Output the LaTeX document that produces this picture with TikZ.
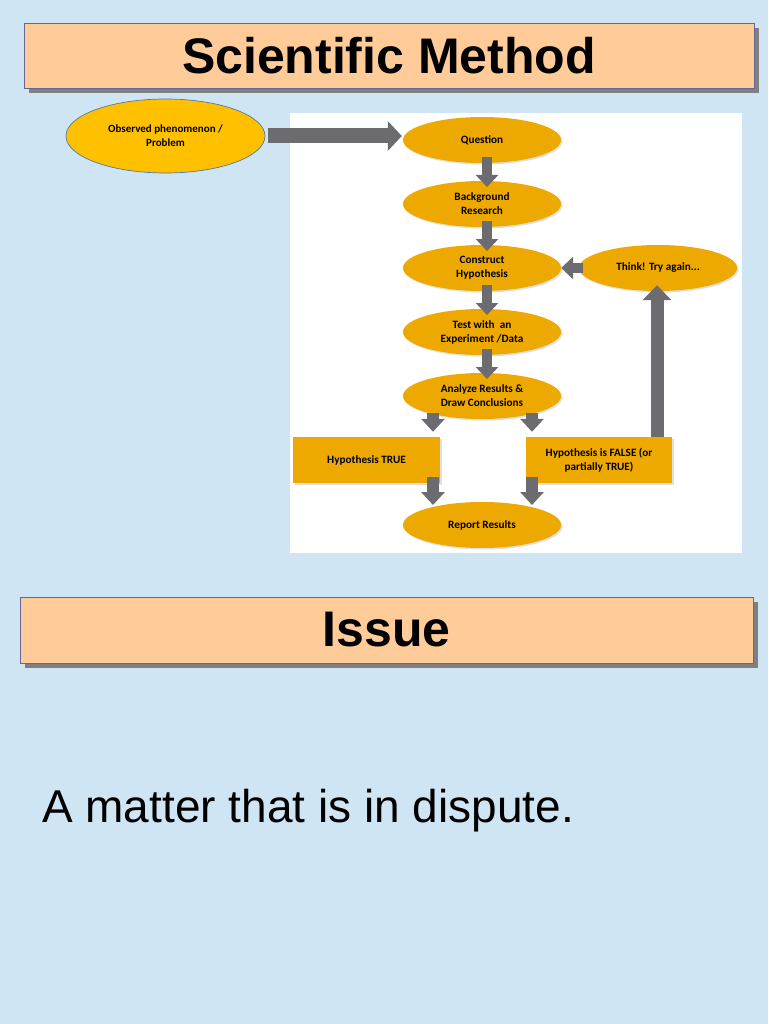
\documentclass[tikz,border=0pt]{standalone}
\usepackage{fontspec}
\setmainfont{Liberation Sans}
\newfontfamily\calfont{Carlito}
\usetikzlibrary{shapes.geometric,arrows.meta,calc,shadows}
\definecolor{bgblue}{HTML}{CFE5F3}
\definecolor{peach}{HTML}{FFCC99}
\definecolor{goldobs}{HTML}{FFC000}
\definecolor{flowgold}{HTML}{EEA900}
\definecolor{arrgray}{HTML}{6B6B70}
\definecolor{shadgray}{HTML}{808080}
\definecolor{edgeblue}{HTML}{4F7BA8}
\tikzset{
  headbox/.style={rectangle, fill=peach, draw=shadgray!80!blue, line width=0.6pt,
    minimum height=65pt, inner sep=0pt,
    general shadow={fill=shadgray, shadow xshift=5pt, shadow yshift=-5pt},
    font=\fontsize{50}{60}\selectfont\bfseries},
  flowell/.style={ellipse, fill=flowgold, minimum width=158pt, minimum height=46pt,
    inner sep=0pt, align=center,
    drop shadow={shadow xshift=1.5pt, shadow yshift=-1.5pt, opacity=0.25},
    font=\calfont\bfseries\fontsize{11.2}{14}\selectfont},
  flowrect/.style={rectangle, fill=flowgold, minimum width=147pt, minimum height=46pt,
    inner sep=0pt, align=center,
    drop shadow={shadow xshift=1.5pt, shadow yshift=-1.5pt, opacity=0.25},
    font=\calfont\bfseries\fontsize{11.2}{14}\selectfont},
  smallarrow/.style={draw=arrgray, line width=10pt, -{Triangle[width=22pt,length=12pt]}},
  midarrow/.style={draw=arrgray, line width=12pt, -{Triangle[width=23pt,length=13pt]}},
  uparrow/.style={draw=arrgray, line width=13pt, -{Triangle[width=28pt,length=15pt]}},
  bigarrow/.style={draw=arrgray, line width=15pt, -{Triangle[width=29pt,length=14pt]}},
}
\begin{document}
\begin{tikzpicture}[x=1pt,y=-1pt]
\fill[bgblue] (0,0) rectangle (768,1024);
\useasboundingbox (0,0) rectangle (768,1024);

% title
\node[headbox, minimum width=730pt] (title) at (389,56) {Scientific Method};

% white panel of the flowchart
\fill[white] (290,113) rectangle (742,553);

% observed phenomenon
\node[ellipse, fill=goldobs, draw=edgeblue, line width=0.7pt, minimum width=199pt,
  minimum height=74pt, inner sep=0pt, align=center,
  font=\calfont\bfseries\fontsize{11}{14}\selectfont] (obs) at (165.5,136)
  {Observed phenomenon /\\Problem};

% flow nodes
\node[flowell] (q)  at (482,140) {Question};
\node[flowell] (bg) at (482,204) {Background\\Research};
\node[flowell] (ch) at (482,268) {Construct\\Hypothesis};
\node[flowell] (te) at (482,332) {Test with\ \ an\\Experiment /Data};
\node[flowell] (an) at (482,396) {Analyze Results \&\\Draw Conclusions};
\node[flowell] (th) at (658,268) {Think! Try again...};
\node[flowrect] (ht) at (366.5,460) {Hypothesis TRUE};
\node[flowrect, minimum width=146pt] (hf) at (599,460) {Hypothesis is FALSE (or\\partially TRUE)};
\node[flowell] (rr) at (482,525) {Report Results};

% connectors
\draw[bigarrow, shorten <=3pt, shorten >=1pt] (obs.east) -- (obs.east -| q.west);
\draw[smallarrow] ($(q)+(5,17)$) -- ($(bg)+(5,-17)$);
\draw[smallarrow] ($(bg)+(5,17)$) -- ($(ch)+(5,-17)$);
\draw[smallarrow] ($(ch)+(5,17)$) -- ($(te)+(5,-17)$);
\draw[smallarrow] ($(te)+(5,17)$) -- ($(an)+(5,-17)$);
\draw[smallarrow] ($(th)+(-75,0)$) -- (ch.east);
\draw[midarrow] ($(an)+(-49,17)$) -- ($(ht.north)+(66.5,-5)$);
\draw[midarrow] ($(an)+(50,17)$) -- ($(hf.north)+(-67,-5)$);
\draw[midarrow] ($(ht.south)+(66.5,-6)$) -- ($(rr)+(-49,-20)$);
\draw[midarrow] ($(hf.south)+(-67,-6)$) -- ($(rr)+(50,-20)$);
\draw[uparrow] ($(hf.north)+(58,0)$) -- ($(th.south)+(-1,-6)$);

% issue
\node[headbox, minimum width=733pt, minimum height=66pt] (issue) at (386.5,630) {Issue};

\node[anchor=base west, inner sep=0pt, font=\fontsize{46}{55}\selectfont] (def) at (42,822)
  {A matter that is in dispute.};
\end{tikzpicture}
\end{document}
